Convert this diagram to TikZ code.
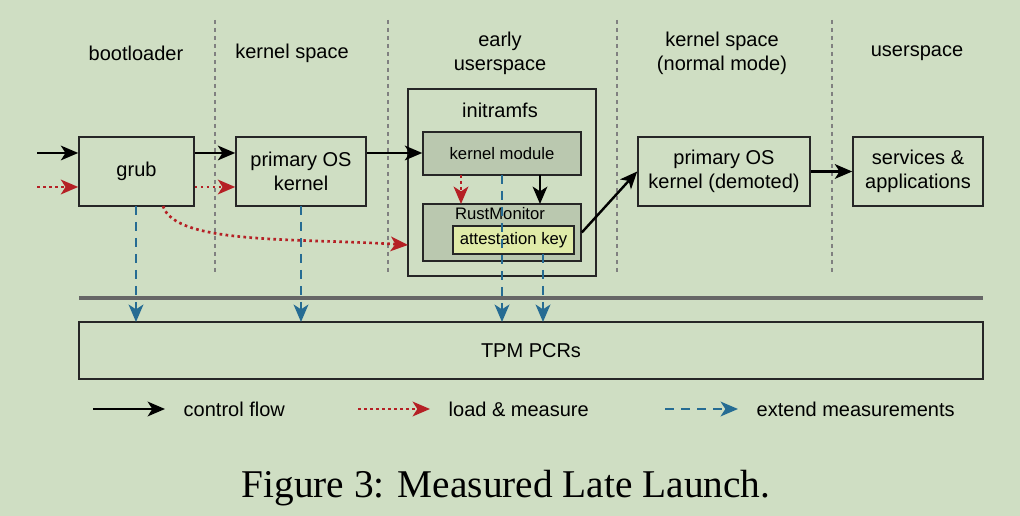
\documentclass[tikz,border=0pt]{standalone}
\usepackage{fontspec}
\setmainfont{Liberation Sans}
\newfontfamily\capfont{Liberation Serif}
\usetikzlibrary{arrows.meta}
\definecolor{bg}{HTML}{CFDEC3}
\definecolor{km}{HTML}{BAC8AF}
\definecolor{ak}{HTML}{E0EBA8}
\definecolor{rd}{HTML}{B52025}
\definecolor{bl}{HTML}{266C93}
\tikzset{
 box/.style={draw=black!85,line width=1.2pt,fill=bg,inner sep=0pt},
 ctl/.style={line width=1.8pt,-{Stealth[length=13pt,width=11pt,inset=3.5pt]}},
 lm/.style={rd,line width=2pt,dash pattern=on 2pt off 2.5pt,-{Stealth[length=13pt,width=11pt,inset=3.5pt]}},
 em/.style={bl,line width=2pt,dash pattern=on 7pt off 5pt,-{Stealth[length=13pt,width=11pt,inset=3.5pt]}},
 sep/.style={gray,line width=0.8pt,dash pattern=on 3pt off 3pt},
 txt/.style={font=\fontsize{15}{18}\selectfont,align=center},
 stxt/.style={font=\fontsize{12.5}{15}\selectfont,align=center}
}
\begin{document}
\begin{tikzpicture}[x=0.75pt,y=-0.75pt]
\fill[bg] (0,0) rectangle (1020,516);
\useasboundingbox (0,0) rectangle (1020,516);
\foreach \x in {215,388,617,832} \draw[sep] (\x,20) -- (\x,272);
\node[txt] (h1) at (136,53) {bootloader};
\node[txt] (h2) at (292,53) {kernel space};
\node[txt] (h3) at (500,53) {early\\userspace};
\node[txt] (h4) at (722,53) {kernel space\\(normal mode)};
\node[txt] (h5) at (917,53) {userspace};
\node[box,minimum width=115*0.75pt,minimum height=69*0.75pt,txt] (grub) at (136.5,171.5) {grub};
\node[box,minimum width=130*0.75pt,minimum height=69*0.75pt,txt] (pk) at (301,171.5) {primary OS\\kernel};
\node[box,minimum width=188*0.75pt,minimum height=187*0.75pt] (ir) at (502,182.5) {};
\node[txt] (irl) at (500,110) {initramfs};
\node[box,fill=km,minimum width=158*0.75pt,minimum height=43*0.75pt,stxt] (km) at (502,153.5) {kernel module};
\node[box,fill=km,minimum width=158*0.75pt,minimum height=57*0.75pt] (rm) at (502,232.5) {};
\node[stxt] (rml) at (500,214) {RustMonitor};
\node[box,fill=ak,minimum width=121*0.75pt,minimum height=28*0.75pt,stxt] (ak) at (513.5,240) {attestation key};
\node[box,minimum width=172*0.75pt,minimum height=69*0.75pt,txt] (dk) at (724,171.5) {primary OS\\kernel (demoted)};
\node[box,minimum width=130*0.75pt,minimum height=69*0.75pt,txt] (sv) at (918,171.5) {services \&\\applications};
\node[box,minimum width=904*0.75pt,minimum height=57*0.75pt,txt] (tpm) at (531,350.5) {TPM PCRs};
\draw[line width=2.6pt,black!60] (79,298) -- (983,298);
\coordinate (s1) at (37,153); \coordinate (s2) at (37,187);
\draw[ctl] (s1) -- (grub.west|-s1);
\draw[ctl] (grub.east|-s1) -- (pk.west|-s1);
\draw[ctl] (pk.east|-s1) -- (km.west|-s1);
\draw[ctl] (540,175) -- (540,204);
\draw[ctl] (rm.east) -- (dk.west);
\draw[ctl] (dk.east) -- (sv.west);
\draw[lm] (s2) -- (grub.west|-s2);
\draw[lm] (grub.east|-s2) -- (pk.west|-s2);
\draw[lm] (163,206) .. controls (175,245) and (300,238) .. (408,245);
\draw[lm] (461,175) -- (461,204);
\draw[em] (136,206) -- (136,322);
\draw[em] (301,206) -- (301,322);
\draw[em] (502,175) -- (502,322);
\draw[em] (543,254) -- (543,322);
\coordinate (l1) at (93,409); \coordinate (l2) at (165,409);
\coordinate (l3) at (358,409); \coordinate (l4) at (430,409);
\coordinate (l5) at (665,409); \coordinate (l6) at (738,409);
\draw[ctl] (l1) -- (l2); \draw[lm] (l3) -- (l4); \draw[em] (l5) -- (l6);
\node[txt,anchor=west] (t1) at (179,409) {control flow};
\node[txt,anchor=west] (t2) at (444,409) {load \& measure};
\node[txt,anchor=west] (t3) at (752,409) {extend measurements};
\node[font=\capfont\fontsize{29.5}{32}\selectfont] (cap) at (506,488) {Figure 3: Measured Late Launch.};
\end{tikzpicture}
\end{document}
